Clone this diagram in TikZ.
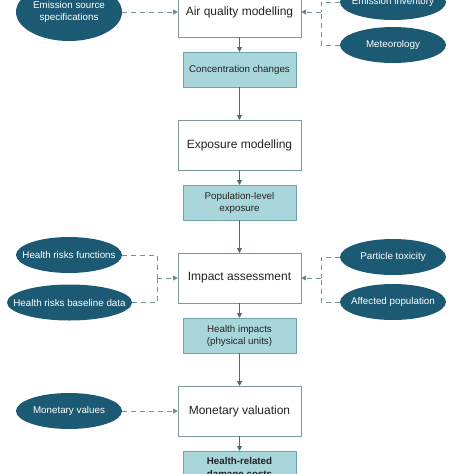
\documentclass[tikz,border=0pt]{standalone}
\usepackage{fontspec}
\setmainfont{Liberation Sans}
\usetikzlibrary{shapes.geometric, arrows.meta, positioning}

\definecolor{darkteal}{RGB}{28,90,115}
\definecolor{tealfill}{RGB}{168,214,218}
\definecolor{tealline}{RGB}{110,165,172}
\definecolor{boxline}{RGB}{125,150,158}
\definecolor{flowcol}{RGB}{70,110,120}
\definecolor{feedcol}{RGB}{120,145,152}
\definecolor{textgray}{RGB}{35,35,35}

\tikzset{
  stage/.style={rectangle, outer sep=0pt, minimum width=123pt, minimum height=50pt, text centered, draw=boxline, line width=1pt, fill=white, text=textgray, font=\fontsize{12}{14}\selectfont},
  result/.style={rectangle, outer sep=0pt, minimum width=113pt, minimum height=35pt, align=center, draw=tealline, line width=0.8pt, fill=tealfill, text=textgray, font=\fontsize{9.8}{12}\selectfont},
  source/.style={ellipse, outer sep=0pt, inner xsep=-16pt, inner ysep=0pt, minimum width=106pt, minimum height=36pt, align=center, fill=darkteal, text=white, font=\fontsize{9.8}{11.8}\selectfont},
  flow/.style={line width=1pt, draw=flowcol, -{Triangle[length=5pt,width=5pt]}},
  feed/.style={line width=1pt, draw=feedcol, dash pattern=on 5pt off 4pt},
  feedarrow/.style={feed, -{Triangle[length=5pt,width=5pt,fill=flowcol]}}
}

\begin{document}
\begin{tikzpicture}[x=1pt, y=1pt]
	\useasboundingbox (0,0) rectangle (474,-474);
	\clip (0,0) rectangle (474,-474);

	% main chain
	\node (air) [stage] at (239.5,-12) {Air quality modelling};
	\node (conc) [result, below=15pt of air] {Concentration changes};
	\node (expo) [stage, below=33pt of conc] {Exposure modelling};
	\node (poplevel) [result, below=15pt of expo] {Population-level\\exposure};
	\node (impact) [stage, below=33pt of poplevel] {Impact assessment};
	\node (healthimp) [result, below=15pt of impact] {Health impacts\\(physical units)};
	\node (monetary) [stage, below=33pt of healthimp] {Monetary valuation};
	\node (damage) [result, below=15pt of monetary, font=\fontsize{9.8}{12.5}\selectfont\bfseries] {Health-related\\damage costs};

	% inputs
	\node (emsrc) [source, minimum height=58pt] at (69,-12) {Emission source\\specifications};
	\node (emisinv) [source] at (393,-2) {Emission inventory};
	\node (meteo) [source] at (393,-45) {Meteorology};
	\node (hrfunc) [source] at (69,-255) {Health risks functions};
	\node (hrbase) [source, minimum width=125pt] at (69.5,-302.5) {Health risks baseline data};
	\node (ptox) [source] at (393,-257) {Particle toxicity};
	\node (affpop) [source] at (393,-302) {Affected population};
	\node (monval) [source] at (69,-411) {Monetary values};

	\coordinate (airjoin) at (321,-12);
	\coordinate (impleft) at (157,-278);
	\coordinate (impright) at (321,-278);

	% Arrows
	\draw [flow] (air) -- (conc);
	\draw [flow] (conc) -- (expo);
	\draw [flow] (expo) -- (poplevel);
	\draw [flow] (poplevel) -- (impact);
	\draw [flow] (impact) -- (healthimp);
	\draw [flow] (healthimp) -- (monetary);
	\draw [flow] (monetary) -- (damage);

	% dashed inputs
	\draw [feedarrow] (emsrc.east) -- (air.west);
	\draw [feed] (emisinv.west) -| (airjoin);
	\draw [feed] (meteo.west) -| (airjoin);
	\draw [feedarrow] (airjoin) -- (air.east);
	\draw [feed] (hrfunc.east) -| (impleft);
	\draw [feed] (hrbase.east) -| (impleft);
	\draw [feedarrow] (impleft) -- (impact.west);
	\draw [feed] (ptox.west) -| (impright);
	\draw [feed] (affpop.west) -| (impright);
	\draw [feedarrow] (impright) -- (impact.east);
	\draw [feedarrow] (monval.east) -- (monetary.west);
\end{tikzpicture}
\end{document}
